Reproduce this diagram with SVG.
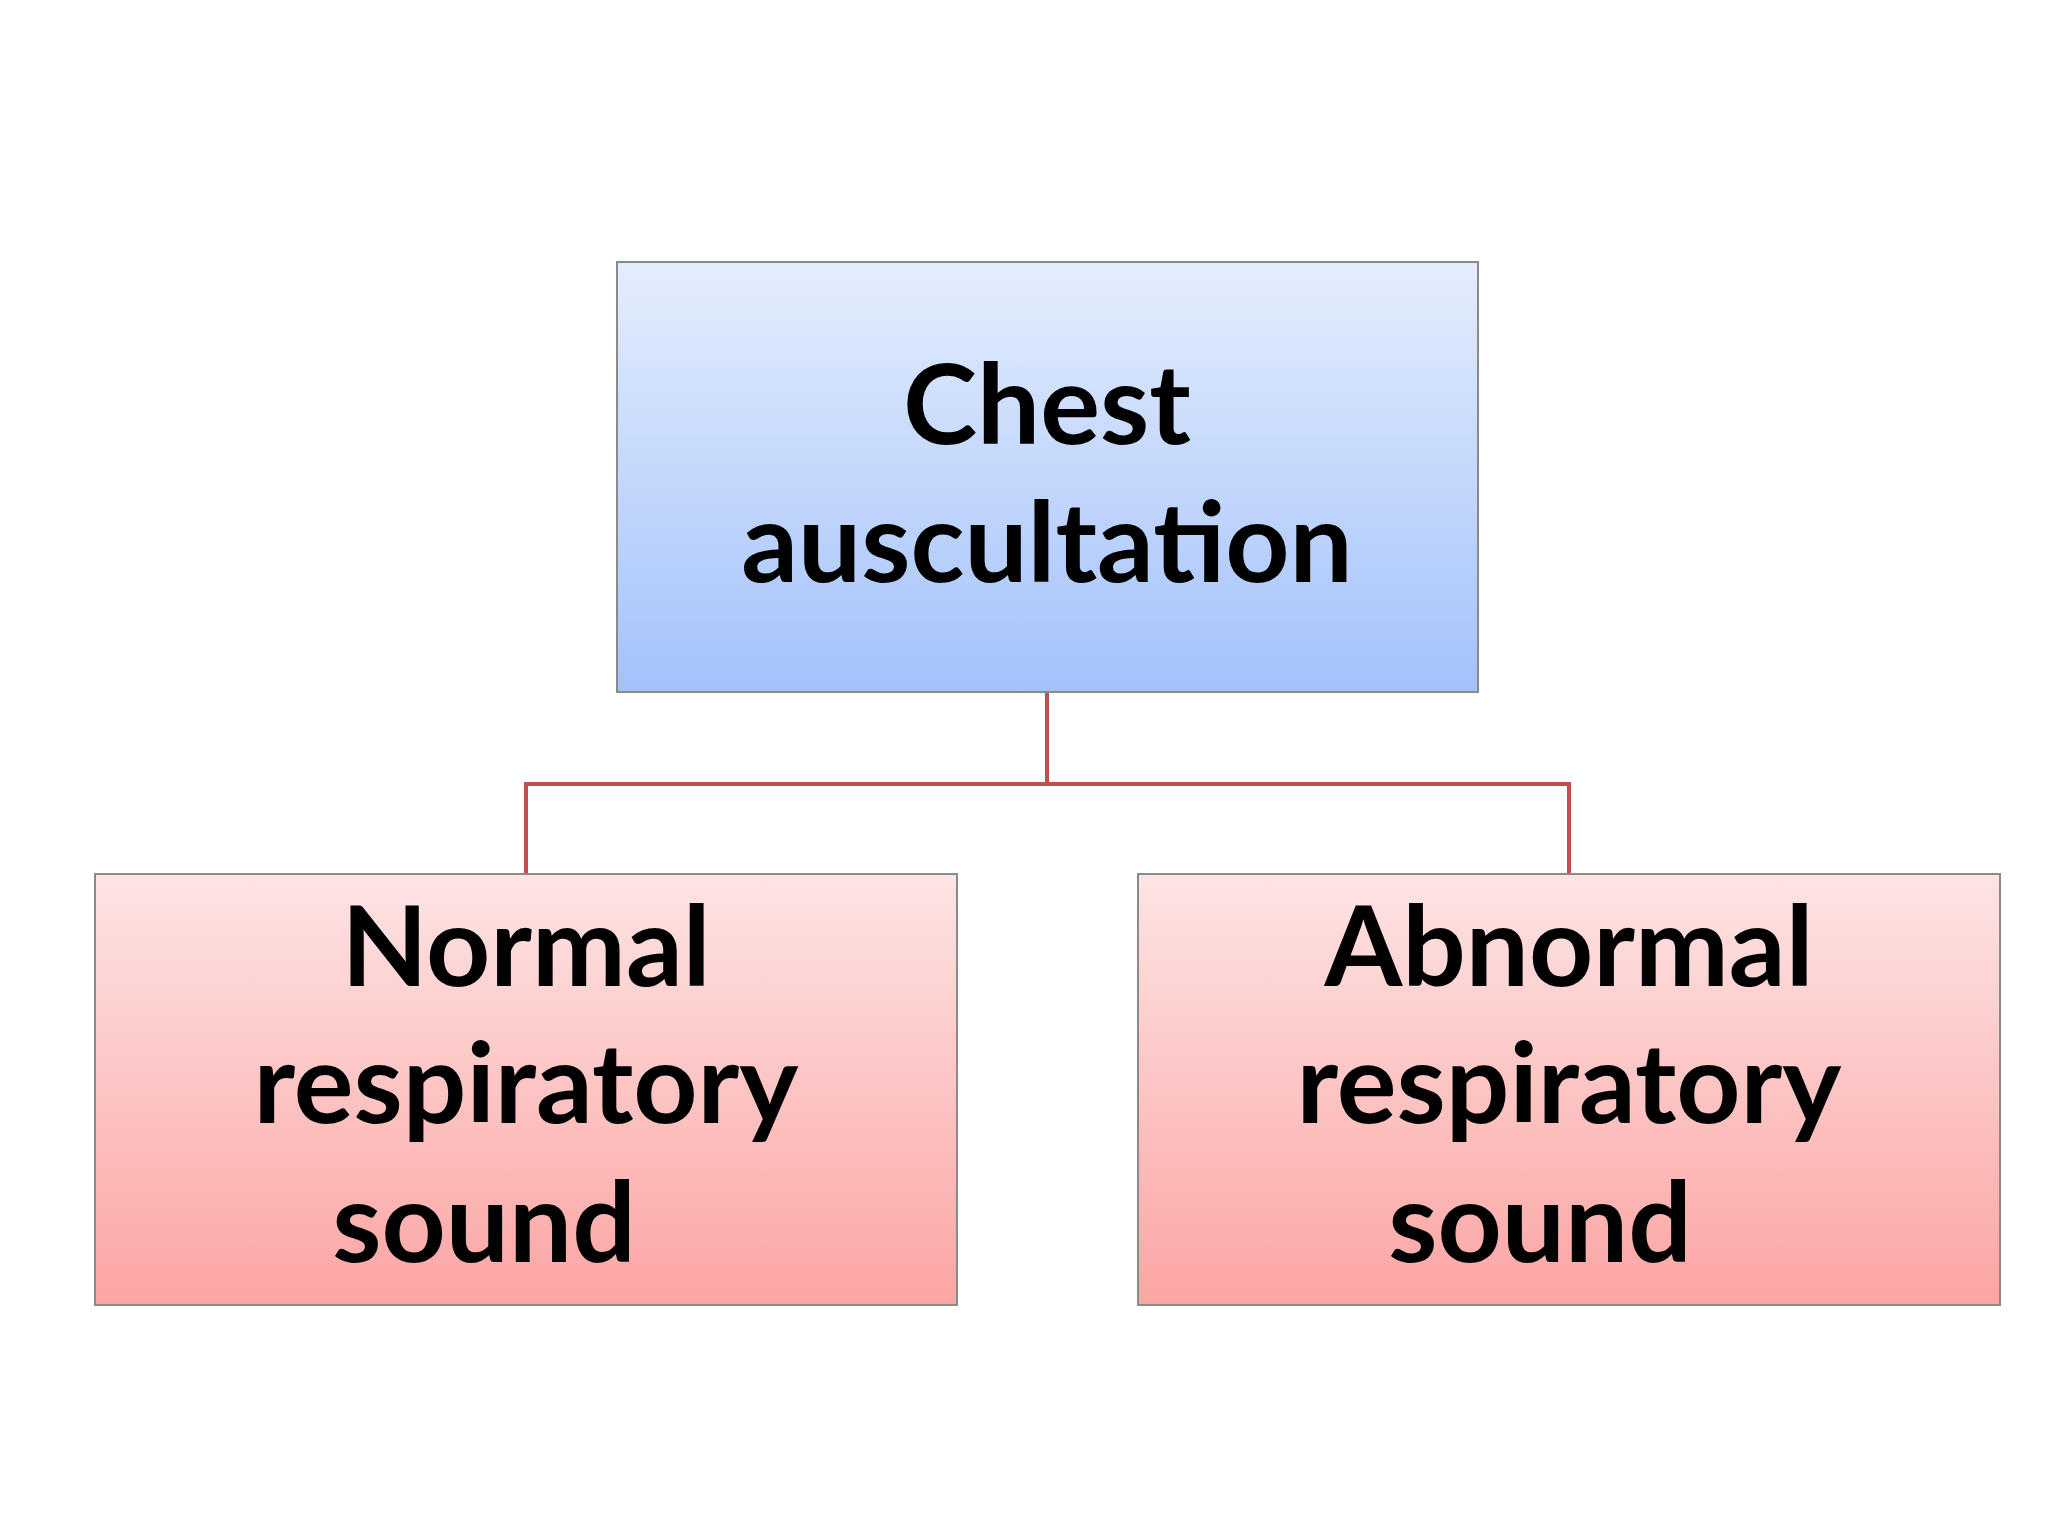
<svg xmlns="http://www.w3.org/2000/svg" width="2048" height="1536" viewBox="0 0 2048 1536">
<style>
.t{font-family:Lato,"Open Sans",sans-serif;font-weight:bold;font-size:112px;fill:#000;text-anchor:middle}
.b{stroke:#8a8a8a;stroke-width:2}
.c{fill:none;stroke:#c0504d;stroke-width:4}
</style>
<defs>
<linearGradient id="gb" x1="0" y1="0" x2="0" y2="1"><stop offset="0" stop-color="#e4edfc"/><stop offset="1" stop-color="#a3c2fb"/></linearGradient>
<linearGradient id="gr" x1="0" y1="0" x2="0" y2="1"><stop offset="0" stop-color="#fde4e4"/><stop offset="1" stop-color="#fba5a3"/></linearGradient>
</defs>
<rect width="2048" height="1536" fill="#fff"/>
<g id="connectors">
<path class="c" d="M1047 692V784M526 874V784H1569V874"/>
</g>
<g id="root">
<rect class="b" x="617" y="262" width="861" height="430" fill="url(#gb)"/>
<text class="t" x="1047" y="444">Chest</text>
<text class="t" x="1047" y="582">auscultation</text>
</g>
<g id="normal">
<rect class="b" x="95" y="874" width="862" height="431" fill="url(#gr)"/>
<text class="t" x="526" y="986">Normal</text>
<text class="t" x="526" y="1123">respiratory</text>
<text class="t" x="484" y="1262">sound</text>
</g>
<g id="abnormal">
<rect class="b" x="1138" y="874" width="862" height="431" fill="url(#gr)"/>
<text class="t" x="1569" y="986">Abnormal</text>
<text class="t" x="1569" y="1123">respiratory</text>
<text class="t" x="1540" y="1262">sound</text>
</g>
</svg>
